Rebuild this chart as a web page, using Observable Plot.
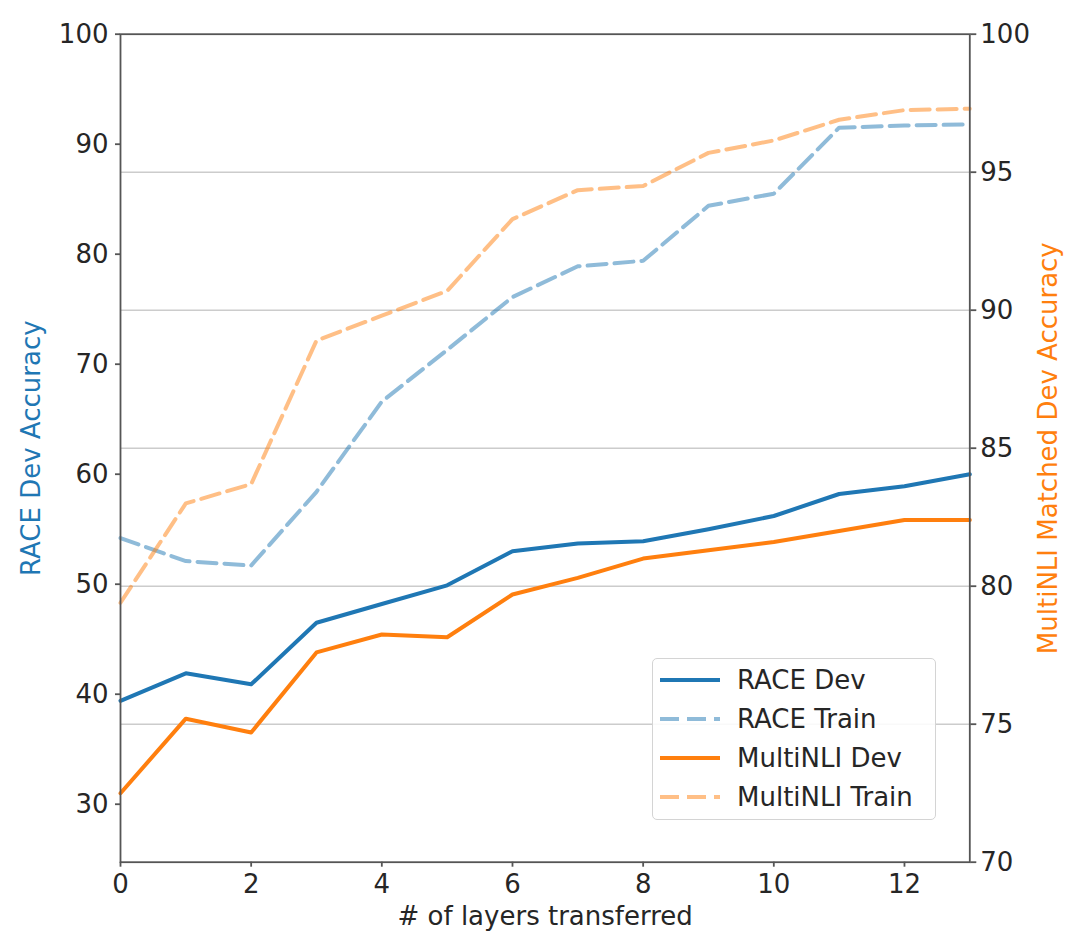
<!DOCTYPE html>
<html>
<head>
<meta charset="utf-8">
<script src="https://cdn.jsdelivr.net/npm/d3@7"></script>
<script src="https://cdn.jsdelivr.net/npm/@observablehq/plot@0.6"></script>
<style>
  html, body { margin: 0; padding: 0; background: #fff; }
  #wrap { position: relative; width: 1085px; height: 937px; font-family: "DejaVu Sans", sans-serif; }
  #legend {
    position: absolute; left: 652px; top: 658px; width: 284px; height: 162px;
    box-sizing: border-box; border: 1.2px solid #d4d4d4; border-radius: 5px;
    background: rgba(255,255,255,0.88); padding-top: 2px;
  }
  .row { display: flex; align-items: center; height: 38.8px; }
  .row svg { margin-left: 7px; width: 60px; height: 12px; }
  .row span { margin-left: 17px; font-size: 26px; color: #262626; white-space: nowrap; }
</style>
</head>
<body>
<div id="wrap"></div>
<script>
// ---- data ----
const layers = [0, 1, 2, 3, 4, 5, 6, 7, 8, 9, 10, 11, 12, 13];
const raceDev    = [39.4, 41.9, 40.9, 46.5, 48.2, 49.9, 53.0, 53.7, 53.9, 55.0, 56.2, 58.2, 58.9, 60.0];
const raceTrain  = [54.2, 52.1, 51.7, 58.4, 66.6, 71.3, 76.1, 78.9, 79.4, 84.4, 85.5, 91.5, 91.7, 91.8];
const mnliDev    = [72.5, 75.2, 74.7, 77.6, 78.25, 78.15, 79.7, 80.3, 81.0, 81.3, 81.6, 82.0, 82.4, 82.4];
const mnliTrain  = [79.4, 83.0, 83.7, 88.9, 89.8, 90.7, 93.3, 94.35, 94.5, 95.7, 96.15, 96.9, 97.25, 97.3];

const seriesNames = ["RACE Dev", "RACE Train", "MultiNLI Dev", "MultiNLI Train"];
const xTicks = [0, 2, 4, 6, 8, 10, 12];
const leftTicks = [30, 40, 50, 60, 70, 80, 90, 100];
const rightTicks = [70, 75, 80, 85, 90, 95, 100];
const gridTicks = [75, 80, 85, 90, 95];

const xLabel = "# of layers transferred";
const leftLabel = "RACE Dev Accuracy";
const rightLabel = "MultiNLI Matched Dev Accuracy";

// ---- dual axis mapping ----
const leftDomain = [24.73, 100];
const rightDomain = [70, 100];
const toLeft = v => leftDomain[0] + (v - rightDomain[0]) * (leftDomain[1] - leftDomain[0]) / (rightDomain[1] - rightDomain[0]);
const fromLeft = v => rightDomain[0] + (v - leftDomain[0]) * (rightDomain[1] - rightDomain[0]) / (leftDomain[1] - leftDomain[0]);

const blue = "#1f77b4", orange = "#ff7f0e";
const dash = "19,8";

const mk = (vals, conv) => layers.map((x, i) => ({x, y: conv(vals[i])}));
const id = v => v;

const chart = Plot.plot({
  width: 1085,
  height: 937,
  marginLeft: 120,
  marginRight: 115.7,
  marginTop: 33.7,
  marginBottom: 75.3,
  x: {domain: [0, 13]},
  y: {domain: leftDomain},
  style: {fontFamily: "DejaVu Sans", fontSize: "26px", color: "#262626", background: "white"},
  marks: [
    Plot.ruleY(gridTicks.map(toLeft), {stroke: "#cccccc", strokeWidth: 1.6}),
    Plot.line(mk(raceDev, id), {x: "x", y: "y", stroke: blue, strokeWidth: 4}),
    Plot.line(mk(raceTrain, id), {x: "x", y: "y", stroke: blue, strokeOpacity: 0.5, strokeWidth: 4, strokeDasharray: dash}),
    Plot.line(mk(mnliDev, toLeft), {x: "x", y: "y", stroke: orange, strokeWidth: 4}),
    Plot.line(mk(mnliTrain, toLeft), {x: "x", y: "y", stroke: orange, strokeOpacity: 0.5, strokeWidth: 4, strokeDasharray: dash}),
    Plot.frame({stroke: "#555", strokeWidth: 1.8}),
    Plot.axisX(xTicks, {anchor: "bottom", tickSize: 5, tickPadding: 7, label: null, stroke: "#555", strokeWidth: 1.8, fill: "#262626"}),
    Plot.axisY(leftTicks, {anchor: "left", tickSize: 5, tickPadding: 7, label: null, stroke: "#555", strokeWidth: 1.8, fill: "#262626"}),
    Plot.axisY(rightTicks.map(toLeft), {anchor: "right", tickSize: 6, tickPadding: 4.5, label: null,
      tickFormat: d => String(Math.round(fromLeft(d))), stroke: "#555", strokeWidth: 1.8, fill: "#262626"}),
    Plot.text([xLabel], {frameAnchor: "bottom", dy: 54.5, text: d => d, fill: "#262626", lineAnchor: "middle", textAnchor: "middle"}),
    Plot.text([leftLabel], {frameAnchor: "left", dx: -88.5, rotate: -90, text: d => d, fill: blue, lineAnchor: "middle", textAnchor: "middle"}),
    Plot.text([rightLabel], {frameAnchor: "right", dx: 78.5, rotate: -90, text: d => d, fill: orange, lineAnchor: "middle", textAnchor: "middle"})
  ]
});

const wrap = document.getElementById("wrap");
wrap.appendChild(chart);

// ---- legend ----
const styles = [
  {c: blue, o: 1, d: null},
  {c: blue, o: 0.5, d: dash},
  {c: orange, o: 1, d: null},
  {c: orange, o: 0.5, d: dash}
];
const legend = document.createElement("div");
legend.id = "legend";
seriesNames.forEach((name, i) => {
  const s = styles[i];
  const row = document.createElement("div");
  row.className = "row";
  row.innerHTML = `<svg viewBox="0 0 60 12"><line x1="0" x2="60" y1="6" y2="6" stroke="${s.c}" stroke-opacity="${s.o}" stroke-width="4" ${s.d ? `stroke-dasharray="${s.d}"` : ""}/></svg><span>${name}</span>`;
  legend.appendChild(row);
});
wrap.appendChild(legend);
</script>
</body>
</html>
